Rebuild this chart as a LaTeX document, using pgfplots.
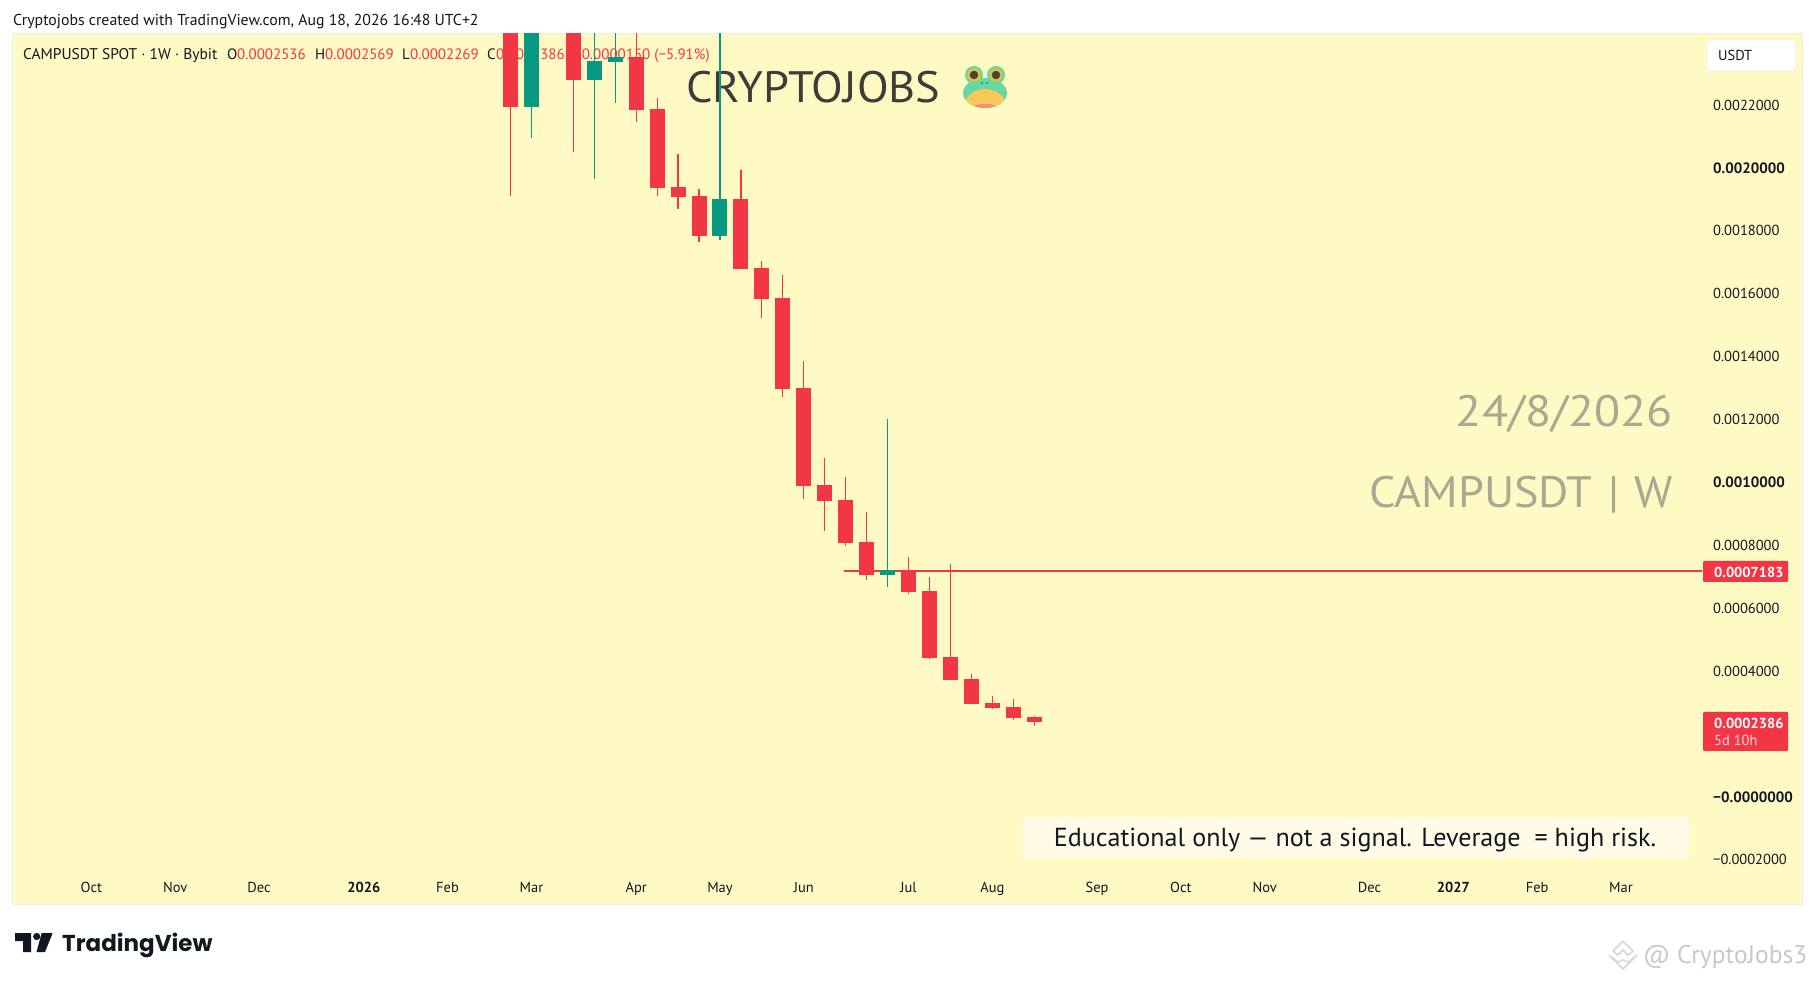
\documentclass[border=0pt]{standalone}
\usepackage{fontspec}
\usepackage{graphicx}
\setmainfont{PT Sans}
\newfontfamily\pop{Poppins}
\usepackage{pgfplots}
\pgfplotsset{compat=1.18}
\definecolor{panel}{RGB}{255,249,196}
\definecolor{cred}{HTML}{F23645}
\definecolor{cgreen}{HTML}{089981}
\definecolor{ink}{HTML}{131722}
\definecolor{wm}{RGB}{170,168,145}
\definecolor{panelb}{RGB}{238,238,232}
\definecolor{wmdark}{RGB}{62,60,55}
\definecolor{frogg}{RGB}{104,216,160}
\definecolor{frogo}{RGB}{250,200,90}
\definecolor{frogp}{RGB}{246,140,120}
\definecolor{frogy}{RGB}{240,190,60}
\definecolor{froge}{RGB}{70,70,62}
\definecolor{frogn}{RGB}{50,70,60}
\definecolor{notebg}{RGB}{255,251,230}
\definecolor{gr1}{RGB}{215,215,215}
\definecolor{gr2}{RGB}{200,200,200}
\definecolor{btnb}{RGB}{240,240,235}
\definecolor{tagl}{RGB}{255,215,215}
\newcommand{\fs}[1]{\fontsize{#1}{#1}\selectfont}
\begin{document}
\begin{tikzpicture}
\begin{scope}[x=1pt,y=1pt]
\useasboundingbox (0,0) rectangle (1815,980);
\fill[white] (0,0) rectangle (1815,980);
\fill[panel,draw=panelb,line width=1pt] (12,{980-905}) rectangle (1802,{980-34});
% header and legend
\node[anchor=base west,inner sep=0,text=ink] at (13,{980-26}) {\fs{15.8}Cryptojobs created with TradingView.com, Aug 18, 2026 16:48 UTC+2};
\node[anchor=base west,inner sep=0,text=ink] at (23,{980-60}) {\fs{15.5}CAMPUSDT SPOT · 1W · Bybit};
\node[anchor=base west,inner sep=0,text=ink] at (227,{980-60}) {\fs{15}O};
\node[anchor=base west,inner sep=0,text=cred] at (237,{980-60}) {\fs{15}0.0002536};
\node[anchor=base west,inner sep=0,text=ink] at (315,{980-60}) {\fs{15}H};
\node[anchor=base west,inner sep=0,text=cred] at (325,{980-60}) {\fs{15}0.0002569};
\node[anchor=base west,inner sep=0,text=ink] at (402,{980-60}) {\fs{15}L};
\node[anchor=base west,inner sep=0,text=cred] at (410,{980-60}) {\fs{15}0.0002269};
\node[anchor=base west,inner sep=0,text=ink] at (487,{980-60}) {\fs{15}C};
\node[anchor=base west,inner sep=0,text=cred] at (496,{980-60}) {\fs{15}0.0002386};
\node[anchor=base west,inner sep=0,text=cred] at (574,{980-60}) {\fs{15}−0.0000150 (−5.91\%)};
% watermarks
\node[anchor=base west,inner sep=0,text=wmdark] at (686,{980-103}) {\scalebox{1.053}[1]{\fs{44}CRYPTOJOBS}};
\node[anchor=base east,inner sep=0,text=wm] at (1673,{980-427}) {\scalebox{1.09}[1]{\fs{44}24/8/2026}};
\node[anchor=base east,inner sep=0,text=wm] at (1673,{980-508}) {\scalebox{1.052}[1]{\fs{44}CAMPUSDT\,\,|\,\,W}};
% frog
\begin{scope}[shift={(0,980)},y=-1pt]
\fill[frogg] (985,93) ellipse (22 and 15);
\fill[frogg] (974,75) circle (9);
\fill[frogg] (996,75) circle (9);
\begin{scope}
\clip (985,93) ellipse (22 and 15);
\fill[frogo] (985,107) ellipse (21 and 18);
\fill[frogp] (985,112) ellipse (18 and 8);
\end{scope}
\fill[frogy] (974,75) circle (6.5);
\fill[frogy] (996,75) circle (6.5);
\fill[froge] (974,75) circle (4.3);
\fill[froge] (996,75) circle (4.3);
\fill[frogn] (982,83) circle (0.9);
\fill[frogn] (987,83) circle (0.9);
\end{scope}
% notice
\fill[notebg] (1023,{980-817}) rectangle (1689,{980-858});
\node[anchor=base,inner sep=0,text=ink] at (1355,{980-847}) {\fs{26.1}Educational only — not a signal. Leverage\ \ = high risk.};
% TradingView logo
\fill[ink] (15,{980-933}) -- (31,{980-933}) -- (31,{980-952}) -- (23,{980-952}) -- (23,{980-941}) -- (15,{980-941}) -- cycle;
\fill[ink] (36.7,{980-936.5}) circle (3.6);
\fill[ink] (41.7,{980-933}) -- (52.7,{980-933}) -- (45,{980-952}) -- (36.5,{980-952}) -- cycle;
\node[anchor=base west,inner sep=0,text=ink] at (62,{980-951}) {\pop\bfseries\fs{23}TradingView};
% bottom-right watermark
\begin{scope}[shift={(1623,{980-955})},draw=gr1,line width=1.5pt]
\draw (0,14) -- (10,4) -- (5,0) -- (0,5) -- (-5,0) -- (-10,4) -- cycle;
\draw (-14,0) -- (-10,-4) -- (0,-14) -- (10,-4) -- (14,0) -- (5,-7) -- (0,-5) -- (-5,-7) -- cycle;
\end{scope}
\node[anchor=base west,inner sep=0,text=gr2] at (1643,{980-963}) {\fs{25.5}@ CryptoJobs3};
\end{scope}
\begin{axis}[
  at={(12pt,103pt)},anchor=south west,
  scale only axis,width=1690pt,height=843pt,
  xmin=-23.79,xmax=56.87,
  ymin=-0.0002544,ymax=0.002426,
  axis line style={draw=none},
  tick style={draw=none},
  major tick length=0pt,
  scaled y ticks=false,scaled x ticks=false,
  unbounded coords=jump,
  ytick pos=right,yticklabel pos=right,
  xtick={-20,-16,-12,-7,-3,1,6,10,14,19,23,28,32,36,41,45,49,53},
  xticklabels={Oct,Nov,Dec,\textbf{2026},Feb,Mar,Apr,May,Jun,Jul,Aug,Sep,Oct,Nov,Dec,\textbf{2027},Feb,Mar},
  ytick={-0.0002,0,0.0004,0.0006,0.0008,0.0010,0.0012,0.0014,0.0016,0.0018,0.0020,0.0022},
  yticklabels={−0.0002000,\textbf{\fs{15}−0.0000000},0.0004000,0.0006000,0.0008000,\textbf{\fs{15}0.0010000},0.0012000,0.0014000,0.0016000,0.0018000,\textbf{\fs{15}0.0020000},0.0022000},
  xticklabel style={font=\fs{14.5},text=ink,inner sep=0pt,anchor=base,yshift=-16pt},
  yticklabel style={font=\fs{14.5},text=ink,inner sep=0pt,anchor=west,xshift=11pt},
  clip=true,
]
% horizontal level
\addplot[cred,line width=1.6pt,forget plot] coordinates {(15.9,0.0007183)(56.87,0.0007183)};
% red wicks (low, high)
\addplot[cred,line width=1.2pt,line cap=butt] coordinates {
(0,0.001912)(0,0.0030)(0,nan)
(3,0.002052)(3,0.0030)(3,nan)
(6,0.002147)(6,0.0030)(6,nan)
(7,0.001912)(7,0.002223)(7,nan)
(8,0.001870)(8,0.002045)(8,nan)
(9,0.001766)(9,0.001933)(9,nan)
(11,0.001679)(11,0.001994)(11,nan)
(12,0.001523)(12,0.001704)(12,nan)
(13,0.001272)(13,0.001660)(13,nan)
(14,0.000948)(14,0.001386)(14,nan)
(15,0.000846)(15,0.001078)(15,nan)
(16,0.000798)(16,0.001017)(16,nan)
(17,0.000690)(17,0.000906)(17,nan)
(19,0.000645)(19,0.000763)(19,nan)
(20,0.000439)(20,0.000700)(20,nan)
(21,0.000372)(21,0.000741)(21,nan)
(22,0.000296)(22,0.000391)(22,nan)
(23,0.000280)(23,0.000321)(23,nan)
(24,0.000245)(24,0.000312)(24,nan)
(25,0.0002269)(25,0.0002569)
};
% red bodies (open, close)
\addplot[cred,line width=15pt,line cap=butt] coordinates {
(0,0.0030)(0,0.002195)(0,nan)
(3,0.0030)(3,0.002280)(3,nan)
(6,0.002353)(6,0.002185)(6,nan)
(7,0.002188)(7,0.001936)(7,nan)
(8,0.001940)(8,0.001909)(8,nan)
(9,0.001911)(9,0.001784)(9,nan)
(11,0.001901)(11,0.001679)(11,nan)
(12,0.001682)(12,0.001583)(12,nan)
(13,0.001587)(13,0.001297)(13,nan)
(14,0.001300)(14,0.000989)(14,nan)
(15,0.000992)(15,0.000941)(15,nan)
(16,0.000944)(16,0.000808)(16,nan)
(17,0.000811)(17,0.000706)(17,nan)
(19,0.000722)(19,0.000652)(19,nan)
(20,0.000655)(20,0.000442)(20,nan)
(21,0.000445)(21,0.000372)(21,nan)
(22,0.000375)(22,0.000296)(22,nan)
(23,0.000299)(23,0.000283)(23,nan)
(24,0.000286)(24,0.000251)(24,nan)
(25,0.0002536)(25,0.0002386)
};
% green wicks (low, high)
\addplot[cgreen,line width=1.2pt,line cap=butt] coordinates {
(1,0.002096)(1,0.0030)(1,nan)
(4,0.001965)(4,0.0030)(4,nan)
(5,0.002208)(5,0.0030)(5,nan)
(10,0.001772)(10,0.0030)(10,nan)
(18,0.000668)(18,0.001202)
};
% green bodies (open, close)
\addplot[cgreen,line width=15pt,line cap=butt] coordinates {
(1,0.002195)(1,0.0030)(1,nan)
(4,0.002280)(4,0.002340)(4,nan)
(5,0.002337)(5,0.002353)(5,nan)
(10,0.001784)(10,0.001901)(10,nan)
(18,0.000706)(18,0.000722)
};
\end{axis}
\begin{scope}[x=1pt,y=1pt]
% USDT button
\fill[white,draw=btnb,line width=0.8pt,rounded corners=3pt] (1707,{980-40}) rectangle (1796,{980-71});
\node[anchor=base west,inner sep=0,text=ink] at (1718,{980-60.5}) {\fs{14.5}USDT};
% price tags
\fill[cred,rounded corners=1pt] (1703,{980-561}) rectangle (1788,{980-582});
\node[anchor=base west,inner sep=0,text=white] at (1714,{980-578}) {\fs{14.5}\bfseries 0.0007183};
\fill[cred,rounded corners=1pt] (1703,{980-712}) rectangle (1788,{980-751});
\node[anchor=base west,inner sep=0,text=white] at (1714,{980-729}) {\fs{14.5}\bfseries 0.0002386};
\node[anchor=base west,inner sep=0,text=tagl] at (1714,{980-746}) {\fs{14.5}5d 10h};
\end{scope}
\end{tikzpicture}
\end{document}
